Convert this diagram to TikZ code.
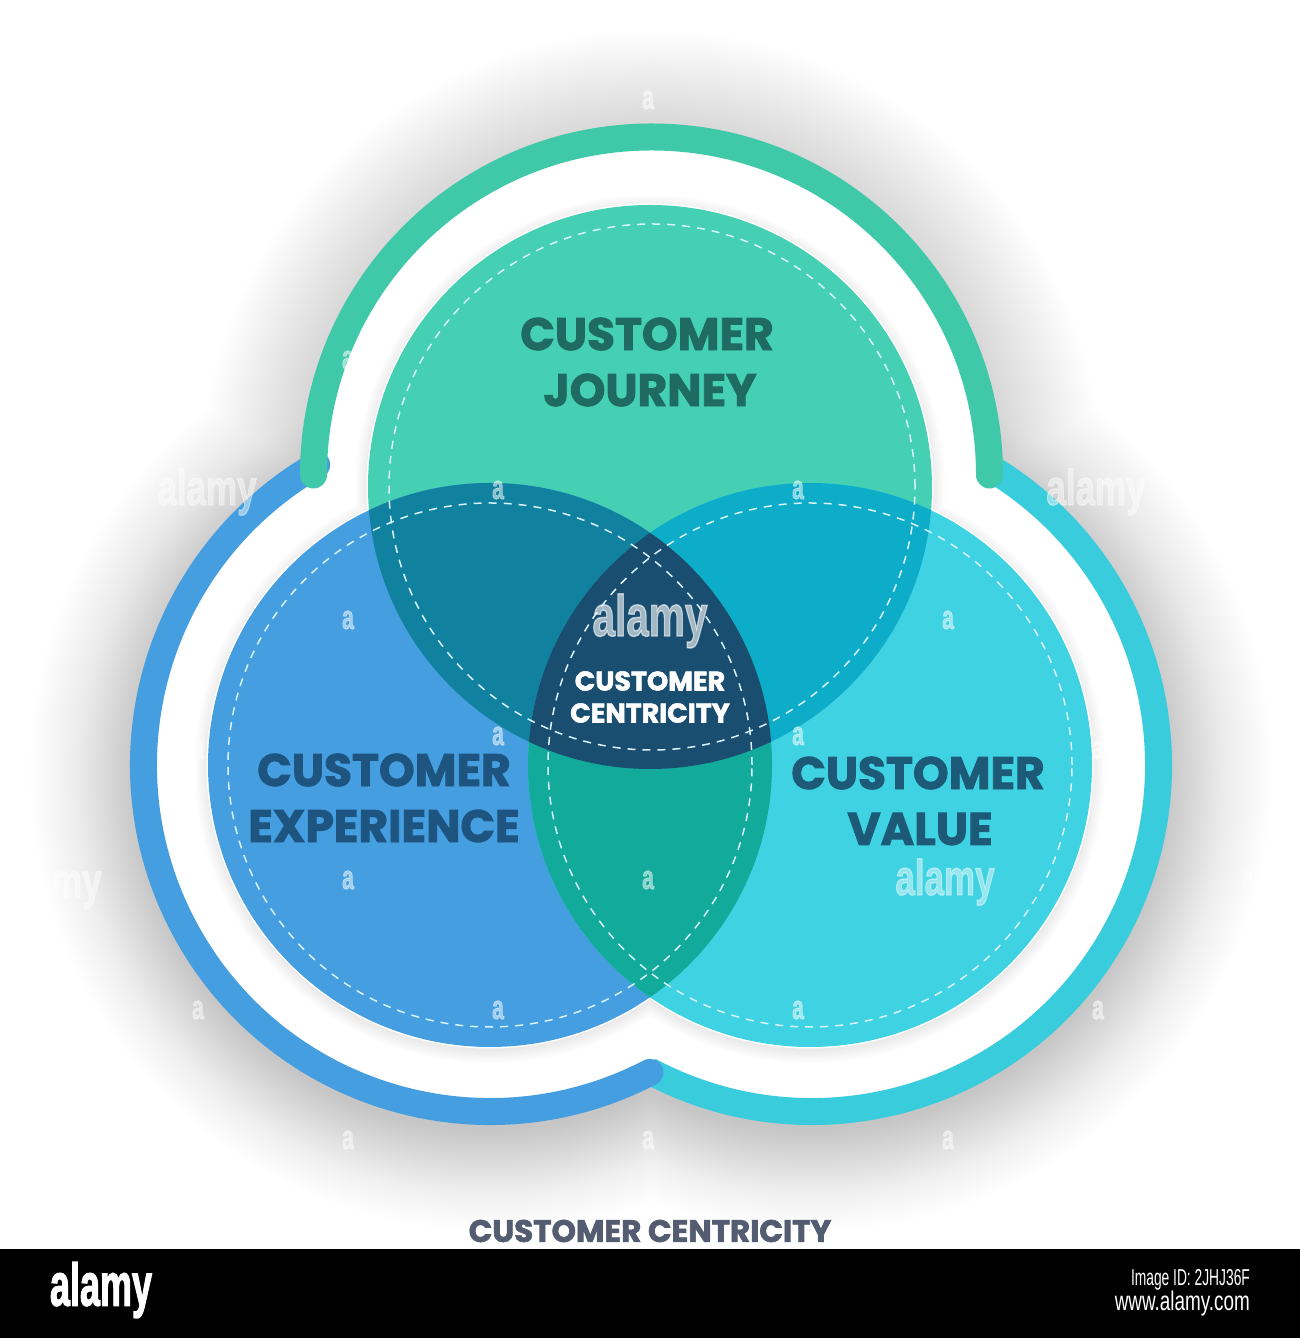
\documentclass[tikz,border=0pt]{standalone}
\usepackage{fontspec}
\setmainfont{Poppins}[BoldFeatures={FakeBold=2}]
\newfontfamily\markfont{Liberation Sans}[BoldFeatures={FakeBold=2.5}]
\definecolor{rimteal}{HTML}{3FC9A8}
\definecolor{rimblue}{HTML}{459EE0}
\definecolor{rimcyan}{HTML}{38CCDC}
\definecolor{ctop}{HTML}{45CFB3}
\definecolor{cleft}{HTML}{459EE0}
\definecolor{cright}{HTML}{3FD2E2}
\definecolor{ovTL}{HTML}{10829F}
\definecolor{ovTR}{HTML}{0DADC9}
\definecolor{ovLR}{HTML}{12AA9B}
\definecolor{ovC}{HTML}{1A4E70}
\definecolor{txtT}{HTML}{1F6B62}
\definecolor{txtL}{HTML}{1E5480}
\definecolor{txtR}{HTML}{1D5A78}
\definecolor{txtTitle}{HTML}{535C70}
\tikzset{
  rim/.style={line width=27pt},
  stitch/.style={draw=white!85!cyan,line width=1.5pt,dash pattern=on 8pt off 7pt},
  biglabel/.style={font=\fontsize{45.5}{45.5}\selectfont\bfseries,align=center,inner sep=0pt},
  wm/.style={font=\markfont\fontsize{50}{50}\selectfont\bfseries,text=white,text opacity=.45,xscale=.7,inner sep=0pt},
  tinymark/.style={font=\markfont\fontsize{34}{34}\selectfont\bfseries,text=white,text opacity=.5,xscale=.62,inner sep=0pt}
}
\begin{document}
\begin{tikzpicture}[x=1pt,y=1pt]
\useasboundingbox (0,0) rectangle (1300,1338);
\fill[white] (0,0) rectangle (1300,1338);
% soft shadow around the whole figure
\foreach \k in {100,97.5,...,0}{
  \fill[black,opacity=.004]
    (490,567) circle[radius=360pt+\k pt]
    (812,567) circle[radius=360pt+\k pt]
    (651.5,857) circle[radius=351pt+\k pt];
}
\foreach \k in {60,56,...,0}{
  \fill[black,opacity=.004]
    (490,555) circle[radius=350pt+\k pt]
    (812,555) circle[radius=350pt+\k pt];
}
% white interior
\fill[white]
  (490,573) circle[radius=336pt]
  (812,573) circle[radius=336pt]
  (651.5,863) circle[radius=326pt];
% rims
\draw[rim,rimcyan] (812,573) ++(-118:346.5pt) arc[start angle=-118,end angle=58,radius=346.5pt];
\draw[rim,rimblue,line cap=round] (490,573) ++(-62.5:346.5pt) arc[start angle=-62.5,end angle=-240,radius=346.5pt];
\draw[rim,rimteal,line cap=round] (651.5,863) ++(180:338pt) arc[start angle=180,end angle=0,radius=338pt];
% soft shadow of the discs on the white band
\foreach \k in {12,10,...,0}{
  \fill[black,opacity=.012]
    (490,570) circle[radius=283pt+\k pt]
    (810,570) circle[radius=283pt+\k pt]
    (650,848) circle[radius=283pt+\k pt];
}
% discs
\fill[white] (490,573) circle[radius=283.5pt] (810,573) circle[radius=283.5pt] (650,851) circle[radius=283.5pt];
\fill[ctop] (650,851) circle[radius=282pt];
\fill[cleft] (490,573) circle[radius=282pt];
\fill[cright] (810,573) circle[radius=282pt];
% overlaps
\begin{scope}
  \clip (650,851) circle[radius=282pt];
  \fill[ovTL] (490,573) circle[radius=282pt];
  \fill[ovTR] (810,573) circle[radius=282pt];
\end{scope}
\begin{scope}
  \clip (490,573) circle[radius=282pt];
  \fill[ovLR] (810,573) circle[radius=282pt];
\end{scope}
\begin{scope}
  \clip (650,851) circle[radius=282pt];
  \clip (490,573) circle[radius=282pt];
  \fill[ovC] (810,573) circle[radius=282pt];
\end{scope}
% stitched circles
\draw[stitch] (652,851) circle[radius=263pt];
\draw[stitch] (490,573) circle[radius=262pt];
\draw[stitch] (810,573) circle[radius=262pt];
% labels
\node[biglabel,text=txtT] (journeyA) at (647,1004) {CUSTOMER};
\node[biglabel,text=txtT] (journeyB) at (650,948) {JOURNEY};
\node[biglabel,text=txtL] (expA) at (384,568) {CUSTOMER};
\node[biglabel,text=txtL] (expB) at (384,512) {EXPERIENCE};
\node[biglabel,text=txtR] (valA) at (918,565) {CUSTOMER};
\node[biglabel,text=txtR] (valB) at (920,509) {VALUE};
\node[font=\fontsize{27}{27}\selectfont\bfseries,text=white,inner sep=0pt] (centA) at (650,657) {CUSTOMER};
\node[font=\fontsize{27}{27}\selectfont\bfseries,text=white,inner sep=0pt] (centB) at (650,625) {CENTRICITY};
\node[font=\fontsize{31}{31}\selectfont\bfseries,text=txtTitle,inner sep=0pt] (title) at (650,107) {CUSTOMER CENTRICITY};
% watermarks
\node[wm] (wmA) at (207,846) {alamy};
\node[wm] (wmB) at (1096,846) {alamy};
\node[wm] (wmC) at (52,453) {alamy};
\node[wm] (wmD) at (945,456) {alamy};
\node[wm,text opacity=.6,font=\markfont\fontsize{58}{58}\selectfont\bfseries] (wmE) at (650,717) {alamy};
\foreach \yy/\xlist in {100/{348,648,948},230/{498,798},360/{348,948},490/{498,798},620/{348,948},736/{498,798},750/{198,1098},880/{348,648,1248},1010/{198,498,798,1098},1140/{348,648,948}}{
  \foreach \xx in \xlist{
    \node[tinymark] (mark\xx-\yy) at (\xx,1338-\yy) {a};
  }
}
% bottom bar
\fill[black] (0,0) rectangle (1300,89);
\node[font=\markfont\fontsize{60}{60}\selectfont\bfseries,text=white,xscale=.6,inner sep=0pt] (logo) at (101,48) {alamy};
\node[font=\markfont\fontsize{23}{23}\selectfont,text=white,xscale=.6,anchor=east,inner sep=0pt] (imgid) at (1250,58) {Image ID: 2JHJ36F};
\node[font=\markfont\fontsize{27}{27}\selectfont,text=white,xscale=.7,anchor=east,inner sep=0pt] (www) at (1250,34) {www.alamy.com};
\end{tikzpicture}
\end{document}
